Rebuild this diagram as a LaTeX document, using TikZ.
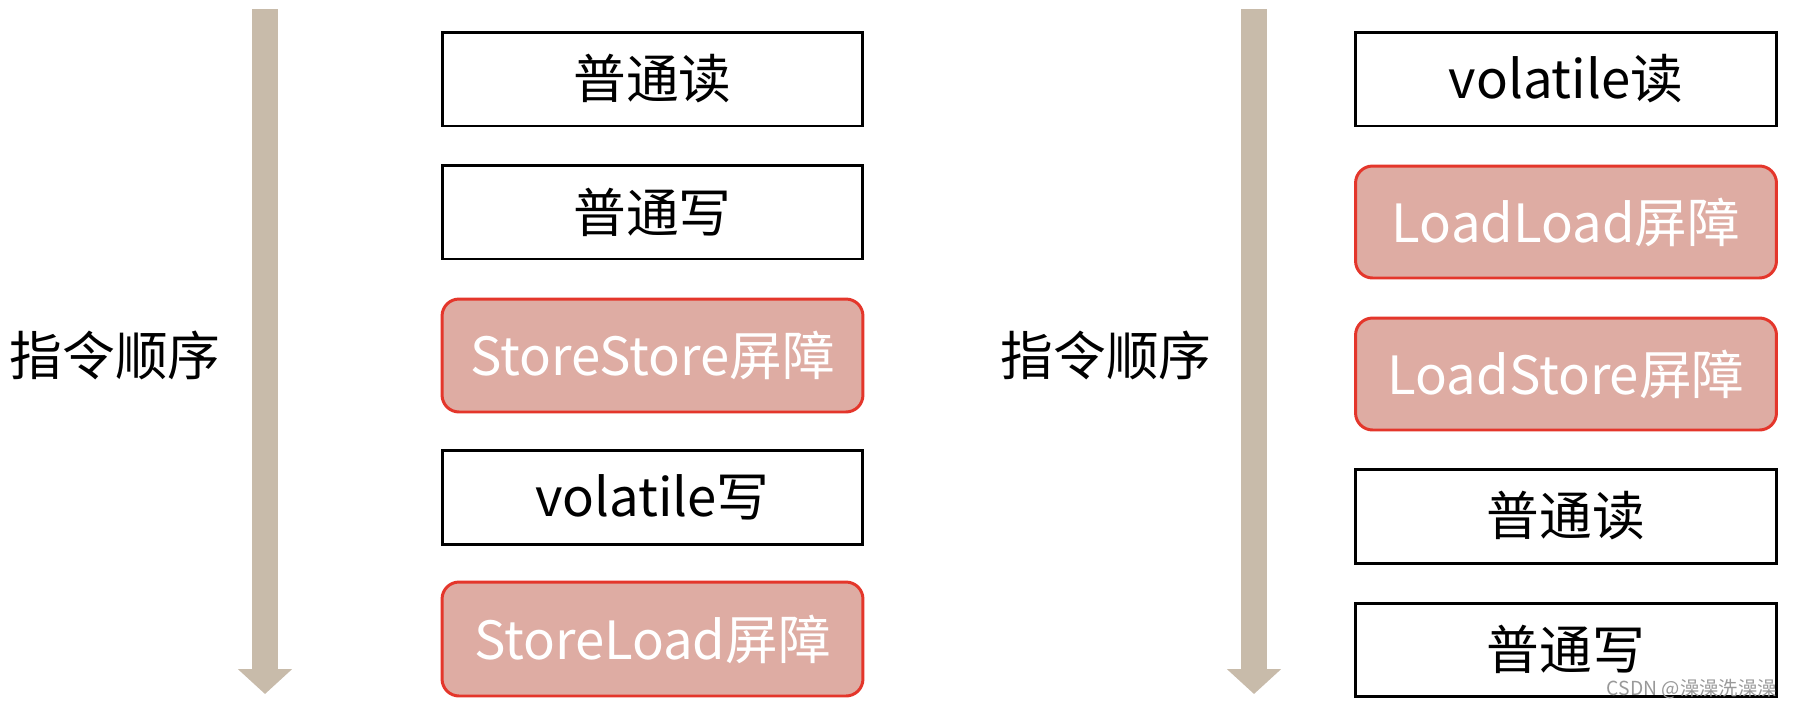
\documentclass[tikz,border=0pt]{standalone}
\usepackage{fontspec}
\setmainfont{Noto Sans CJK SC}
\usetikzlibrary{arrows.meta}

\definecolor{ordertan}{HTML}{C8BBAA}
\definecolor{barrierfill}{HTML}{DEACA3}
\definecolor{barrierline}{HTML}{E4362B}

\tikzset{
  op/.style={draw=black, line width=1.7pt, minimum width=8.42cm, minimum height=1.88cm,
    inner sep=0pt, font=\fontsize{30}{36}\selectfont},
  barrier/.style={op, draw=barrierline, fill=barrierfill, text=white, rounded corners=0.34cm},
  order/.style={line width=0.52cm, draw=ordertan, -{Triangle[width=1.06cm,length=0.5cm]}},
  label/.style={font=\fontsize{30}{36}\selectfont, inner sep=0pt},
}

\begin{document}
\begin{tikzpicture}[x=0.02cm, y=-0.02cm]
  \useasboundingbox (0,0) rectangle (1794,708);

  % volatile write
  \coordinate (lt) at (265,9);
  \coordinate (lb) at (265,694);
  \draw[order] (lt) -- (lb);
  \node[label] (lorder) at (115,355) {指令顺序};

  \node[op] (lread) at (652.5,79) {普通读};
  \node[op] (lwrite) at (652.5,212) {普通写};
  \node[barrier, minimum height=2.26cm] (ss) at (652.5,355.5) {StoreStore屏障};
  \node[op] (vwrite) at (652.5,497.5) {volatile写};
  \node[barrier, minimum height=2.28cm] (sl) at (652.5,639) {StoreLoad屏障};

  % volatile read
  \coordinate (rt) at (1254,9);
  \coordinate (rb) at (1254,694);
  \draw[order] (rt) -- (rb);
  \node[label] (rorder) at (1106,355) {指令顺序};

  \node[op] (vread) at (1566,79) {volatile读};
  \node[barrier, minimum height=2.24cm] (ll) at (1566,222) {LoadLoad屏障};
  \node[barrier, minimum height=2.24cm] (ls) at (1566,374) {LoadStore屏障};
  \node[op] (rread) at (1566,516) {普通读};
  \node[op, minimum height=1.86cm] (rwrite) at (1566,649.5) {普通写};

  \node[anchor=east, inner sep=0pt, text=black!40, font=\fontsize{11}{12}\selectfont] (mark) at (1777,689) {CSDN @澡澡洗澡澡};
\end{tikzpicture}
\end{document}
